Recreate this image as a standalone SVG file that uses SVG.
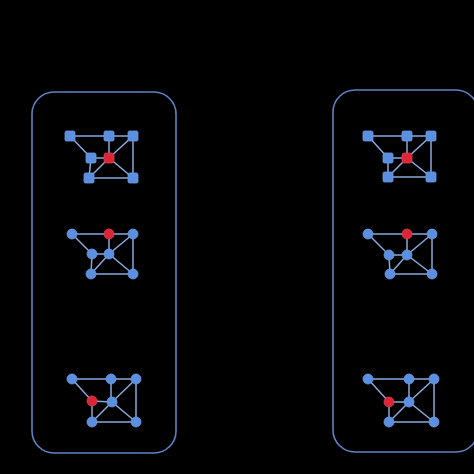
<svg xmlns="http://www.w3.org/2000/svg" width="474" height="474" viewBox="0 0 474 474">
<style>
.box{fill:none;stroke:#5f82c4;stroke-width:1.6}
.e{stroke:#8aa9dc;stroke-width:1.5;fill:none}
.n{fill:#5b8fe0;stroke:#6e9ae6;stroke-width:0.8}
.r{fill:#dc2638;stroke:#e04050;stroke-width:0.8}
</style>
<rect width="474" height="474" fill="#000"/>
<g id="group-left"><rect class="box" x="32" y="92" width="144" height="361" rx="22"/></g>
<g id="group-right"><rect class="box" x="333" y="90" width="145" height="362" rx="22"/></g>
<g id="connectors">
<path class="e" d="M70,136 H133 M70,136 L91,158 L89,178 L133,178 L133,136 L109,158 L89,178 M109,136 V158 M91,158 L109,158 L133,178"/>
<path class="e" d="M72,234 H133 M72,234 L92,254 L91,274 L133,274 L133,234 L109,254 L91,274 M109,234 V254 M92,254 L109,254 L133,274"/>
<path class="e" d="M72,379 H136 M72,379 L92,401 L92,422 L136,422 L136,379 L112,402 L92,422 M111,379 V402 M92,401 L112,402 L136,422"/>
<path class="e" d="M368,136 H431 M368,136 L388,158 L388,177 L431,177 L431,136 L407,158 L388,177 M407,136 V158 M388,158 L407,158 L431,177"/>
<path class="e" d="M368,234 H432 M368,234 L389,255 L390,274 L432,274 L432,234 L407,255 L390,274 M407,234 V255 M389,255 L407,255 L432,274"/>
<path class="e" d="M368,379 H434 M368,379 L389,402 L389,422 L434,422 L434,379 L409,402 L389,422 M409,379 V402 M389,402 L409,402 L434,422"/>
</g>
<g id="g1">
<rect class="n" x="65" y="131" width="10" height="10" rx="1.5"/>
<rect class="n" x="104" y="131" width="10" height="10" rx="1.5"/>
<rect class="n" x="128" y="131" width="10" height="10" rx="1.5"/>
<rect class="n" x="86" y="153" width="10" height="10" rx="1.5"/>
<rect class="r" x="104" y="153" width="10" height="10" rx="2.5"/>
<rect class="n" x="84" y="173" width="10" height="10" rx="1.5"/>
<rect class="n" x="128" y="173" width="10" height="10" rx="1.5"/>
</g>
<g id="g2">
<circle class="n" cx="72" cy="234" r="5"/>
<circle class="r" cx="109" cy="234" r="5"/>
<circle class="n" cx="133" cy="234" r="5"/>
<circle class="n" cx="92" cy="254" r="5"/>
<circle class="n" cx="109" cy="254" r="5"/>
<circle class="n" cx="91" cy="274" r="5"/>
<circle class="n" cx="133" cy="274" r="5"/>
</g>
<g id="g3">
<circle class="n" cx="72" cy="379" r="5"/>
<circle class="n" cx="111" cy="379" r="5"/>
<circle class="n" cx="136" cy="379" r="5"/>
<circle class="r" cx="92" cy="401" r="5"/>
<circle class="n" cx="112" cy="402" r="5"/>
<circle class="n" cx="92" cy="422" r="5"/>
<circle class="n" cx="136" cy="422" r="5"/>
</g>
<g id="g4">
<rect class="n" x="363" y="131" width="10" height="10" rx="1.5"/>
<rect class="n" x="402" y="131" width="10" height="10" rx="1.5"/>
<rect class="n" x="426" y="131" width="10" height="10" rx="1.5"/>
<rect class="n" x="383" y="153" width="10" height="10" rx="1.5"/>
<rect class="r" x="402" y="153" width="10" height="10" rx="2.5"/>
<rect class="n" x="383" y="172" width="10" height="10" rx="1.5"/>
<rect class="n" x="426" y="172" width="10" height="10" rx="1.5"/>
</g>
<g id="g5">
<circle class="n" cx="368" cy="234" r="5"/>
<circle class="r" cx="407" cy="234" r="5"/>
<circle class="n" cx="432" cy="234" r="5"/>
<circle class="n" cx="389" cy="255" r="5"/>
<circle class="n" cx="407" cy="255" r="5"/>
<circle class="n" cx="390" cy="274" r="5"/>
<circle class="n" cx="432" cy="274" r="5"/>
</g>
<g id="g6">
<circle class="n" cx="368" cy="379" r="5"/>
<circle class="n" cx="409" cy="379" r="5"/>
<circle class="n" cx="434" cy="379" r="5"/>
<circle class="r" cx="389" cy="402" r="5"/>
<circle class="n" cx="409" cy="402" r="5"/>
<circle class="n" cx="389" cy="422" r="5"/>
<circle class="n" cx="434" cy="422" r="5"/>
</g>
</svg>
